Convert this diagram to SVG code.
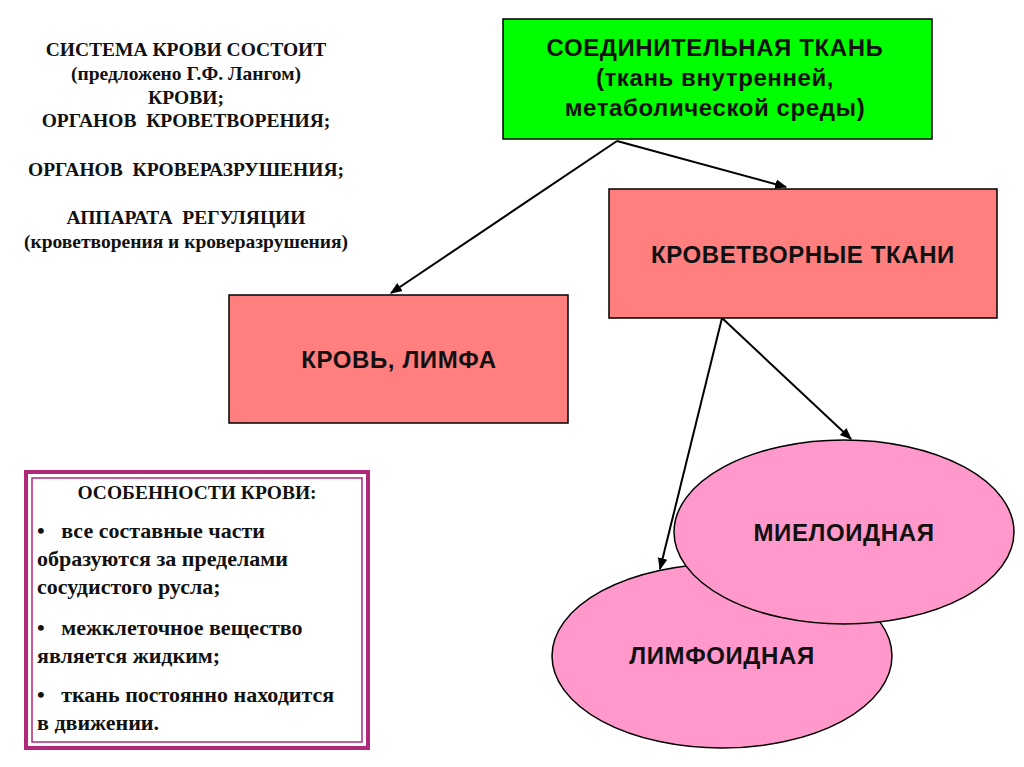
<svg xmlns="http://www.w3.org/2000/svg" width="1024" height="767" viewBox="0 0 1024 767">
<defs>
<style>
.s{font-family:"Liberation Serif",serif;font-weight:bold;fill:#111;text-anchor:middle;font-size:19.5px}
.b{font-family:"Liberation Sans",Arial,sans-serif;font-weight:bold;fill:#111;text-anchor:middle;font-size:24px;letter-spacing:0.6px}
.l{font-family:"Liberation Serif",serif;font-weight:bold;fill:#111;font-size:22px;white-space:pre}
.box{stroke:#000;stroke-width:1.5}
.c{stroke:#000;stroke-width:2;fill:none;marker-end:url(#a)}
</style>
<marker id="a" viewBox="0 0 10 10" refX="9" refY="5" markerWidth="6" markerHeight="6" orient="auto"><path d="M0,1 L10,5 L0,9 z" fill="#000"/></marker>
</defs>
<rect width="1024" height="767" fill="#fff"/>
<g id="intro">
<text class="s" xml:space="preserve"><tspan x="186" y="56">СИСТЕМА КРОВИ СОСТОИТ</tspan><tspan x="186" y="80">(предложено Г.Ф. Лангом)</tspan><tspan x="186" y="104">КРОВИ;</tspan><tspan x="186" y="127">ОРГАНОВ  КРОВЕТВОРЕНИЯ;</tspan><tspan x="186" y="176">ОРГАНОВ  КРОВЕРАЗРУШЕНИЯ;</tspan><tspan x="186" y="224">АППАРАТА  РЕГУЛЯЦИИ</tspan><tspan x="186" y="248">(кроветворения и кроверазрушения)</tspan></text>
</g>
<g id="connectors">
<line class="c" x1="617" y1="141" x2="391" y2="293"/>
<line class="c" x1="617" y1="141" x2="786" y2="187"/>
<line class="c" x1="722" y1="318" x2="660" y2="569"/>
<line class="c" x1="722" y1="318" x2="851" y2="439"/>
</g>
<g id="tissue">
<rect class="box" x="503" y="19" width="429" height="120" fill="#00ff00"/>
<text class="b"><tspan x="715" y="56">СОЕДИНИТЕЛЬНАЯ ТКАНЬ</tspan><tspan x="715" y="86">(ткань внутренней,</tspan><tspan x="715" y="116">метаболической среды)</tspan></text>
</g>
<g id="hemato">
<rect class="box" x="609" y="189" width="388" height="129" fill="#ff7f7f"/>
<text class="b" x="803" y="263">КРОВЕТВОРНЫЕ ТКАНИ</text>
</g>
<g id="blood">
<rect class="box" x="229" y="295" width="339" height="128" fill="#ff7f7f"/>
<text class="b" x="399" y="368">КРОВЬ, ЛИМФА</text>
</g>
<g id="lymphoid">
<ellipse class="box" cx="722" cy="656" rx="170" ry="92" fill="#ff99cc"/>
<text class="b" x="722" y="664">ЛИМФОИДНАЯ</text>
</g>
<g id="myeloid">
<ellipse class="box" cx="844" cy="532" rx="170" ry="92" fill="#ff99cc"/>
<text class="b" x="844" y="541">МИЕЛОИДНАЯ</text>
</g>
<g id="features">
<rect x="26" y="472" width="342" height="276" fill="#fff" stroke="#b0287a" stroke-width="4"/>
<rect x="32" y="478" width="330" height="264" fill="none" stroke="#b0287a" stroke-width="1.5"/>
<text class="s" font-size="18" x="197" y="499">ОСОБЕННОСТИ КРОВИ:</text>
<text class="l" xml:space="preserve"><tspan x="37" y="538">•   все составные части</tspan><tspan x="37" y="566">образуются за пределами</tspan><tspan x="37" y="594">сосудистого русла;</tspan><tspan x="37" y="635">•   межклеточное вещество</tspan><tspan x="37" y="663">является жидким;</tspan><tspan x="37" y="702">•   ткань постоянно находится</tspan><tspan x="37" y="730">в движении.</tspan></text>
</g>
</svg>
